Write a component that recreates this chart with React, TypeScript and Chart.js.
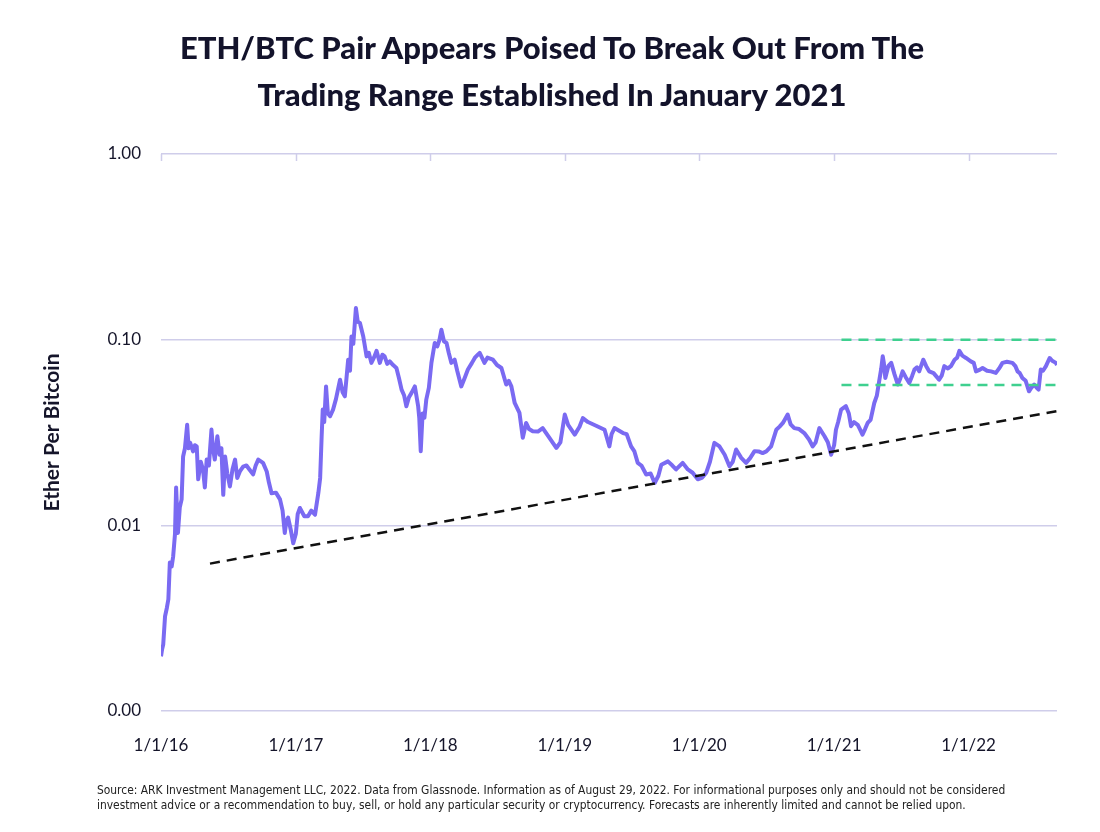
import React, { useEffect, useRef } from 'react';
import { Chart, registerables } from 'chart.js';

Chart.register(...registerables);

const dates: string[] = [
  '2016-01-01','2016-01-04','2016-01-07','2016-01-12','2016-01-17','2016-01-21','2016-01-25','2016-01-30',
  '2016-02-03','2016-02-08','2016-02-11','2016-02-16','2016-02-21','2016-02-26','2016-03-01','2016-03-06',
  '2016-03-12','2016-03-16','2016-03-20','2016-03-28','2016-04-02','2016-04-07','2016-04-11','2016-04-18',
  '2016-04-24','2016-04-29','2016-05-04','2016-05-10','2016-05-17','2016-05-21','2016-05-26','2016-06-02',
  '2016-06-08','2016-06-13','2016-06-18','2016-06-23','2016-06-29','2016-07-06','2016-07-13','2016-07-20',
  '2016-07-26','2016-08-02','2016-08-11','2016-08-20','2016-08-28','2016-09-07','2016-09-14','2016-09-21',
  '2016-10-04','2016-10-14','2016-10-20','2016-10-27','2016-11-08','2016-11-19','2016-11-26','2016-12-02',
  '2016-12-06','2016-12-11','2016-12-18','2016-12-25','2017-01-01','2017-01-06','2017-01-12','2017-01-24',
  '2017-02-03','2017-02-12','2017-02-22','2017-03-03','2017-03-08','2017-03-12','2017-03-15','2017-03-19',
  '2017-03-24','2017-03-29','2017-04-04','2017-04-12','2017-04-20','2017-05-01','2017-05-08','2017-05-14',
  '2017-05-23','2017-05-28','2017-06-01','2017-06-06','2017-06-13','2017-06-18','2017-06-24','2017-07-03',
  '2017-07-12','2017-07-18','2017-07-25','2017-08-01','2017-08-08','2017-08-17','2017-08-24','2017-08-30',
  '2017-09-06','2017-09-13','2017-09-22','2017-10-01','2017-10-08','2017-10-15','2017-10-22','2017-10-28',
  '2017-11-04','2017-11-11','2017-11-20','2017-11-29','2017-12-02','2017-12-06','2017-12-11','2017-12-16',
  '2017-12-21','2017-12-28','2018-01-04','2018-01-13','2018-01-20','2018-01-26','2018-01-31','2018-02-07',
  '2018-02-14','2018-02-20','2018-02-27','2018-03-08','2018-03-15','2018-03-26','2018-04-04','2018-04-13',
  '2018-04-24','2018-05-02','2018-05-10','2018-05-15','2018-05-28','2018-06-05','2018-06-20','2018-07-01',
  '2018-07-13','2018-07-26','2018-08-02','2018-08-09','2018-08-18','2018-08-31','2018-09-09','2018-09-18',
  '2018-09-26','2018-10-06','2018-10-20','2018-11-02','2018-11-18','2018-12-09','2018-12-20','2019-01-01',
  '2019-01-10','2019-01-28','2019-02-10','2019-02-19','2019-03-05','2019-03-27','2019-04-19','2019-05-02',
  '2019-05-08','2019-05-16','2019-06-08','2019-06-18','2019-06-30','2019-07-09','2019-07-18','2019-07-28',
  '2019-08-10','2019-08-22','2019-09-02','2019-09-12','2019-09-20','2019-10-08','2019-10-20','2019-10-30',
  '2019-11-17','2019-12-01','2019-12-14','2019-12-28','2020-01-08','2020-01-20','2020-01-30','2020-02-11',
  '2020-02-25','2020-03-10','2020-03-23','2020-04-01','2020-04-10','2020-04-24','2020-05-07','2020-05-18',
  '2020-05-30','2020-06-10','2020-06-21','2020-07-01','2020-07-14','2020-07-28','2020-08-06','2020-08-15',
  '2020-08-28','2020-09-05','2020-09-15','2020-09-28','2020-10-12','2020-10-25','2020-11-04','2020-11-12',
  '2020-11-22','2020-12-06','2020-12-15','2020-12-24','2021-01-01','2021-01-06','2021-01-12','2021-01-20',
  '2021-02-02','2021-02-10','2021-02-16','2021-02-24','2021-03-06','2021-03-12','2021-03-19','2021-03-26',
  '2021-04-02','2021-04-10','2021-04-20','2021-04-27','2021-05-04','2021-05-09','2021-05-13','2021-05-16',
  '2021-05-20','2021-05-28','2021-06-05','2021-06-14','2021-06-23','2021-06-30','2021-07-06','2021-07-14',
  '2021-07-24','2021-08-01','2021-08-07','2021-08-14','2021-08-20','2021-08-31','2021-09-08','2021-09-16',
  '2021-09-28','2021-10-13','2021-10-20','2021-10-27','2021-11-06','2021-11-14','2021-11-24','2021-12-01',
  '2021-12-07','2021-12-15','2021-12-25','2022-01-07','2022-01-15','2022-01-21','2022-02-01','2022-02-08',
  '2022-02-20','2022-03-03','2022-03-16','2022-03-25','2022-04-03','2022-04-15','2022-04-30','2022-05-08',
  '2022-05-14','2022-05-20','2022-05-27','2022-06-05','2022-06-14','2022-06-20','2022-06-28','2022-07-05',
  '2022-07-10','2022-07-16','2022-07-22','2022-07-30','2022-08-09','2022-08-16','2022-08-26','2022-08-29',
];

const ethBtc: number[] = [
  0.00197,0.00215,0.00228,0.00324,0.0036,0.0040,0.0063,0.0060,
  0.0068,0.0090,0.016,0.0091,0.0125,0.0138,0.0235,0.026,
  0.0348,0.026,0.0279,0.025,0.027,0.0266,0.0177,0.022,
  0.020,0.0160,0.0226,0.021,0.0328,0.026,0.0226,0.0302,
  0.024,0.026,0.0146,0.0235,0.019,0.0162,0.020,0.0226,
  0.018,0.0195,0.0207,0.021,0.020,0.0188,0.021,0.0226,
  0.0217,0.0195,0.017,0.0149,0.015,0.0138,0.012,0.0091,
  0.0105,0.0110,0.0095,0.0080,0.0090,0.0115,0.0124,0.0112,
  0.0112,0.0120,0.0114,0.0149,0.018,0.030,0.042,0.036,
  0.056,0.040,0.0387,0.042,0.048,0.0609,0.052,0.0495,
  0.078,0.068,0.104,0.095,0.148,0.125,0.123,0.104,
  0.0813,0.085,0.075,0.080,0.087,0.075,0.083,0.0813,
  0.074,0.0764,0.073,0.0704,0.062,0.0538,0.050,0.0438,
  0.049,0.0517,0.056,0.0438,0.038,0.0251,0.040,0.038,
  0.0475,0.055,0.075,0.096,0.092,0.100,0.113,0.098,
  0.096,0.085,0.075,0.078,0.068,0.056,0.062,0.069,
  0.075,0.080,0.083,0.0848,0.075,0.080,0.078,0.073,
  0.0704,0.0573,0.060,0.056,0.0456,0.0403,0.0296,0.0356,
  0.033,0.0321,0.032,0.0334,0.030,0.0261,0.028,0.0395,
  0.0348,0.0308,0.034,0.0378,0.036,0.0344,0.0327,0.0266,
  0.031,0.0334,0.0314,0.031,0.0266,0.025,0.0217,0.021,
  0.0188,0.019,0.0169,0.0185,0.0212,0.0221,0.021,0.0200,
  0.0217,0.020,0.0192,0.0177,0.018,0.0192,0.022,0.0278,
  0.0266,0.024,0.0208,0.022,0.0256,0.0231,0.0217,0.023,
  0.0251,0.025,0.0245,0.025,0.0266,0.0327,0.034,0.0356,
  0.0395,0.035,0.0334,0.033,0.0314,0.029,0.0266,0.028,
  0.0334,0.0302,0.028,0.024,0.027,0.0327,0.036,0.042,
  0.0438,0.040,0.0342,0.036,0.0348,0.033,0.0308,0.033,
  0.0356,0.037,0.0456,0.050,0.0609,0.070,0.0813,0.075,
  0.0622,0.072,0.075,0.065,0.0573,0.062,0.0675,0.063,
  0.0584,0.064,0.069,0.071,0.0675,0.078,0.072,0.0675,
  0.066,0.0609,0.064,0.072,0.070,0.072,0.078,0.080,
  0.087,0.082,0.0797,0.0764,0.075,0.0675,0.069,0.0704,
  0.068,0.0675,0.0662,0.070,0.075,0.076,0.075,0.072,
  0.0675,0.066,0.0622,0.060,0.0527,0.055,0.0573,0.055,
  0.0538,0.069,0.068,0.072,0.0797,0.077,0.075,0.073,
];

const supportDates: string[] = ['2016-05-13', '2022-08-29'];
const supportValues: number[] = [0.00622, 0.0412];
const rangeDates: string[] = ['2021-01-21', '2022-08-29'];
const rangeTopValues: number[] = [0.1, 0.1];
const rangeBottomValues: number[] = [0.057, 0.057];

const xTickDates: string[] = ['2016-01-01','2017-01-01','2018-01-01','2019-01-01','2020-01-01','2021-01-01','2022-01-01'];
const xTickLabels: string[] = ['1/1/16','1/1/17','1/1/18','1/1/19','1/1/20','1/1/21','1/1/22'];
const yTickValues: number[] = [0.001, 0.01, 0.1, 1];
const yTickLabels: string[] = ['0.00', '0.01', '0.10', '1.00'];
const axisStart = '2016-01-01';
const axisEnd = '2022-08-29';

const ms = (d: string) => Date.parse(d + 'T00:00:00Z');
const pts = (ds: string[], vs: number[]) => ds.map((d, i) => ({ x: ms(d), y: vs[i] }));

const GRID = '#cfcdea';
const FONT = 'Lato, "Open Sans", sans-serif';

const topTicksPlugin = {
  id: 'topTicks',
  beforeDatasetsDraw(chart: any) {
    const { ctx, chartArea, scales } = chart;
    ctx.save();
    ctx.strokeStyle = GRID;
    ctx.lineWidth = 1.5;
    xTickDates.forEach((d) => {
      const px = Math.round(scales.x.getPixelForValue(ms(d))) + 0.5;
      ctx.beginPath();
      ctx.moveTo(px, chartArea.top);
      ctx.lineTo(px, chartArea.top + 7);
      ctx.stroke();
    });
    ctx.restore();
  },
};

function EthBtcChart() {
  const ref = useRef<HTMLCanvasElement | null>(null);
  useEffect(() => {
    if (!ref.current) return;
    const chart = new Chart(ref.current, {
      type: 'line',
      data: {
        datasets: [
          {
            label: 'Range top',
            data: pts(rangeDates, rangeTopValues),
            borderColor: '#3fd08f',
            borderWidth: 2.5,
            borderDash: [10, 7],
            pointRadius: 0,
            order: 0,
          },
          {
            label: 'Range bottom',
            data: pts(rangeDates, rangeBottomValues),
            borderColor: '#3fd08f',
            borderWidth: 2.5,
            borderDash: [10, 7],
            pointRadius: 0,
            order: 1,
          },
          {
            label: 'Support',
            data: pts(supportDates, supportValues),
            borderColor: '#111111',
            borderWidth: 2.5,
            borderDash: [10, 7],
            pointRadius: 0,
            order: 2,
          },
          {
            label: 'ETH/BTC',
            data: pts(dates, ethBtc),
            borderColor: '#7a6af2',
            borderWidth: 4,
            pointRadius: 0,
            tension: 0,
            borderJoinStyle: 'round',
            order: 3,
          },
        ],
      },
      options: {
        animation: false,
        responsive: false,
        devicePixelRatio: 1,
        layout: { padding: { left: 0, top: 146, right: 35, bottom: 27 } },
        plugins: { legend: { display: false }, tooltip: { enabled: false }, title: { display: false } },
        scales: {
          x: {
            type: 'linear',
            min: ms(axisStart),
            max: ms(axisEnd),
            grid: { display: false, drawTicks: false },
            border: { display: false },
            afterBuildTicks: (scale: any) => {
              scale.ticks = xTickDates.map((d) => ({ value: ms(d) }));
            },
            afterFit: (scale: any) => {
              scale.height = 50;
            },
            ticks: {
              autoSkip: false,
              maxRotation: 0,
              padding: 24,
              color: '#15152a',
              font: { family: FONT, size: 17 },
              callback: (_v: any, i: number) => xTickLabels[i],
            },
          },
          y: {
            type: 'logarithmic',
            min: 0.001,
            max: 1,
            grid: { color: GRID, lineWidth: 1.5, drawTicks: false },
            border: { display: false },
            afterBuildTicks: (scale: any) => {
              scale.ticks = yTickValues.map((v) => ({ value: v }));
            },
            afterFit: (scale: any) => {
              scale.width = 153;
            },
            ticks: {
              padding: 20,
              color: '#15152a',
              font: { family: FONT, size: 17 },
              callback: (_v: any, i: number) => yTickLabels[i],
            },
            title: {
              display: true,
              text: 'Ether Per Bitcoin',
              color: '#15152a',
              font: { family: FONT, size: 21, weight: 'bold' },
              padding: { top: 32, bottom: 0 },
            },
          },
        },
      },
      plugins: [topTicksPlugin],
    } as any);
    return () => chart.destroy();
  }, []);
  return <canvas ref={ref} width={1084} height={780} style={{ position: 'absolute', left: 0, top: 0 }} />;
}

export default function App() {
  return (
    <div style={{ position: 'relative', width: 1084, height: 816, background: '#fff', fontFamily: FONT }}>
      <div
        style={{
          position: 'absolute',
          left: 0,
          top: 16,
          width: 1088,
          textAlign: 'center',
          fontSize: 31,
          fontWeight: 900,
          lineHeight: '47px',
          color: '#13132b',
          zIndex: 2,
        }}
      >
        ETH/BTC Pair Appears Poised To Break Out From The
        <br />
        Trading Range Established In January 2021
      </div>
      <EthBtcChart />
      <div
        style={{
          position: 'absolute',
          left: 89,
          top: 775,
          width: 980,
          fontFamily: '"Liberation Sans Narrow", "DejaVu Sans Condensed", sans-serif',
          fontSize: 11.9,
          lineHeight: '15px',
          color: '#222',
        }}
      >
        Source: ARK Investment Management LLC, 2022. Data from Glassnode. Information as of August 29, 2022. For informational purposes only and should not be considered
        <br />
        investment advice or a recommendation to buy, sell, or hold any particular security or cryptocurrency. Forecasts are inherently limited and cannot be relied upon.
      </div>
    </div>
  );
}
